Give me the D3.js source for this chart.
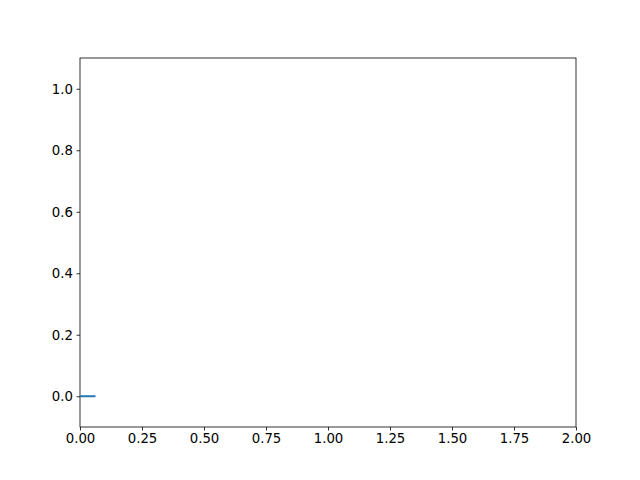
<!DOCTYPE html>
<html>
<head>
<meta charset="utf-8">
<script src="https://cdn.jsdelivr.net/npm/d3@7"></script>
<style>
body { margin: 0; background: #fff; }
text { font-family: "DejaVu Sans", sans-serif; }
</style>
</head>
<body>
<div id="chart"></div>
<script>
// the line data (a short segment at y = 0)
var xValues = [0, 0.0625];
var yValues = [0, 0];
var xTicks = [0, 0.25, 0.5, 0.75, 1, 1.25, 1.5, 1.75, 2];
var yTicks = [0, 0.2, 0.4, 0.6, 0.8, 1.0];

var W = 640, H = 480;
var m = {left: 80, right: 64, top: 58, bottom: 53};

var svg = d3.select('#chart').append('svg')
  .attr('width', W).attr('height', H);

var x = d3.scaleLinear().domain([0, 2]).range([m.left, W - m.right]);
var y = d3.scaleLinear().domain([-0.1, 1.1]).range([H - m.bottom, m.top]);

var xAxis = svg.append('g')
  .attr('transform', 'translate(0,' + (H - m.bottom) + ')')
  .call(d3.axisBottom(x).tickValues(xTicks).tickSize(3.5).tickPadding(3.5)
    .tickFormat(d3.format('.2f')));
var yAxis = svg.append('g')
  .attr('transform', 'translate(' + m.left + ',0)')
  .call(d3.axisLeft(y).tickValues(yTicks).tickSize(3.5).tickPadding(3.5)
    .tickFormat(d3.format('.1f')));

[xAxis, yAxis].forEach(function(g) {
  g.select('.domain').remove();
  g.selectAll('text').attr('font-size', 13.3).attr('fill', '#000')
    .style('font-family', '"DejaVu Sans", sans-serif');
  g.selectAll('line').attr('stroke', '#000').attr('stroke-width', 0.8);
});

// frame
svg.append('rect')
  .attr('x', m.left).attr('y', m.top)
  .attr('width', W - m.left - m.right).attr('height', H - m.top - m.bottom)
  .attr('fill', 'none').attr('stroke', '#000').attr('stroke-width', 0.8);

var line = d3.line()
  .x(function(d) { return x(d[0]); })
  .y(function(d) { return y(d[1]); });

svg.append('path')
  .datum(d3.zip(xValues, yValues))
  .attr('d', line)
  .attr('fill', 'none')
  .attr('stroke', '#1f77b4')
  .attr('stroke-width', 2);
</script>
</body>
</html>
